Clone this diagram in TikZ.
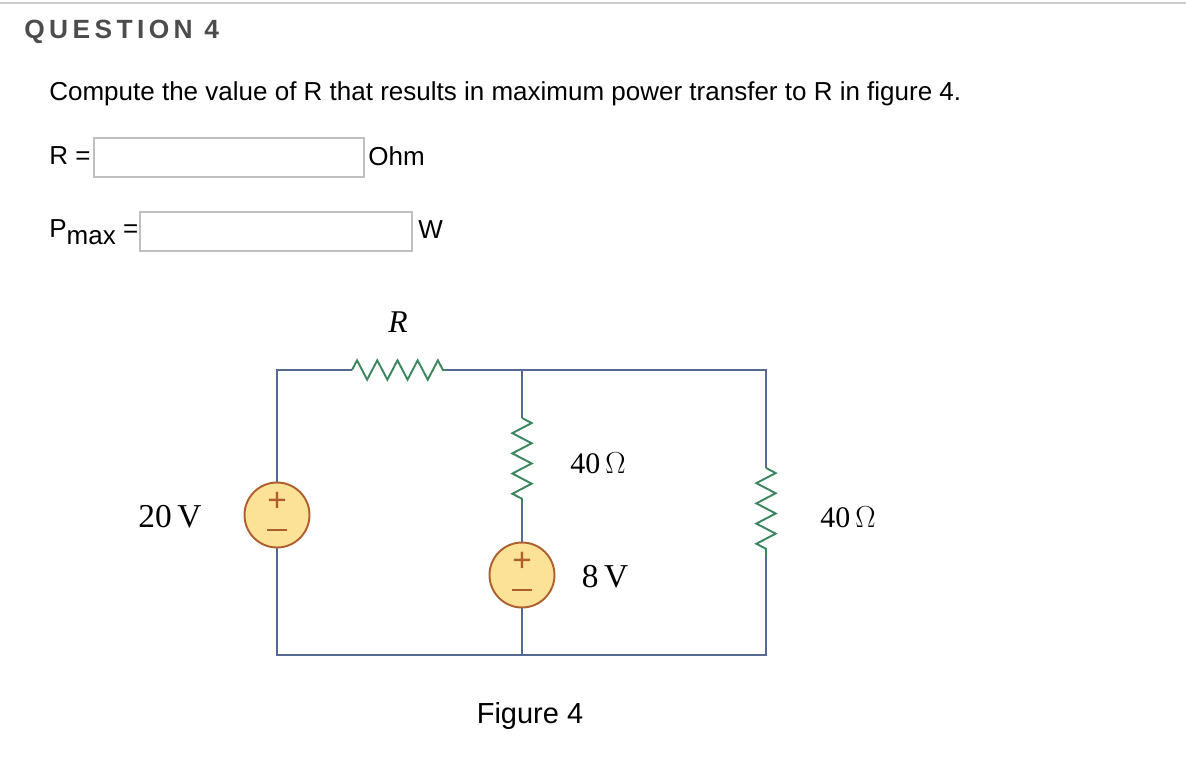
\documentclass[tikz,border=0pt]{standalone}
\usepackage{fontspec}
\setmainfont{Liberation Sans}
\newfontfamily\serifff{Liberation Serif}
\usetikzlibrary{decorations.pathmorphing}
\definecolor{wire}{RGB}{85,105,145}
\definecolor{resgreen}{RGB}{60,135,95}
\definecolor{srcfill}{RGB}{252,226,150}
\definecolor{srcline}{RGB}{175,95,45}
\tikzset{
	wire/.style={draw=wire,line width=1.4pt},
	res/.style={draw=resgreen,line width=1.1pt,decorate,decoration={zigzag,segment length=11.5pt,amplitude=5.5pt}},
	src/.style={circle,draw=srcline,fill=srcfill,line width=1.1pt,minimum size=1.3cm,inner sep=0pt},
	ansbox/.style={draw=black!25,line width=0.6pt},
	txt/.style={anchor=west,inner sep=0pt,font=\fontsize{14.8}{16}\selectfont},
	val/.style={inner sep=0pt,font=\serifff\fontsize{17}{18}\selectfont}
}
\begin{document}
\begin{tikzpicture}[x=0.02cm,y=-0.02cm]
	\useasboundingbox (0,0) rectangle (1186,774);
	\draw[black!20,line width=0.8pt] (0,3) -- (1186,3);
	\node[anchor=west,inner sep=0pt,text=black!70,font=\bfseries\fontsize{15}{16}\selectfont] (title) at (24,32) {Q\,U\,E\,S\,T\,I\,O\,N\, 4};
	\node[txt] (question) at (49,94) {Compute the value of R that results in maximum power transfer to R in figure 4.};
	\node[txt] (req) at (49,156) {R =};
	\draw[ansbox] (94,138) rectangle (364,177);
	\node[txt] (ohm) at (368,156) {Ohm};
	\node[txt] (pmax) at (49,232) {P\raisebox{-0.5ex}{max} =};
	\draw[ansbox] (140,212) rectangle (412,251);
	\node[txt] (watt) at (418,230) {W};
	% circuit
	\coordinate (tl) at (277,370);
	\coordinate (ra) at (352,370);
	\coordinate (rb) at (446,370);
	\coordinate (tm) at (522,370);
	\coordinate (tr) at (766,370);
	\coordinate (bl) at (277,655);
	\coordinate (bm) at (522,655);
	\coordinate (br) at (766,655);
	\coordinate (ma) at (522,418);
	\coordinate (mb) at (522,504);
	\coordinate (rra) at (766,468);
	\coordinate (rrb) at (766,556);
	\node[src] (vleft) at (277,515) {};
	\node[src] (vmid) at (522,575) {};
	\foreach \s in {vleft,vmid}{
		\node[text=srcline,inner sep=0pt,font=\fontsize{19}{19}\selectfont] at ([yshift=0.26cm]\s.center) {+};
		\draw[srcline,line width=1.1pt] ([xshift=-0.2cm,yshift=-0.3cm]\s.center) -- ([xshift=0.2cm,yshift=-0.3cm]\s.center);
	}
	\draw[wire] (vleft.north) -- (tl) -- (ra);
	\draw[wire] (rb) -- (tr) -- (rra);
	\draw[wire] (tm) -- (ma);
	\draw[wire] (mb) -- (vmid.north);
	\draw[wire] (vleft.south) -- (bl) -- (br) -- (rrb);
	\draw[wire] (vmid.south) -- (bm);
	\draw[res] (ra) -- (rb);
	\draw[res] (ma) -- (mb);
	\draw[res] (rra) -- (rrb);
	\node[val,font=\serifff\itshape\fontsize{18}{18}\selectfont] (lblr) at (398,322) {R};
	\node[val] (lblr1) at (598,463) {40\,$\Omega$};
	\node[val,font=\serifff\fontsize{19}{20}\selectfont] (lblv1) at (170,517) {20\,V};
	\node[val,font=\serifff\fontsize{19}{20}\selectfont] (lblv2) at (605,577) {8\,V};
	\node[val] (lblr2) at (848,517) {40\,$\Omega$};
	\node[inner sep=0pt,font=\fontsize{16.5}{18}\selectfont] (caption) at (530,716) {Figure 4};
\end{tikzpicture}
\end{document}
